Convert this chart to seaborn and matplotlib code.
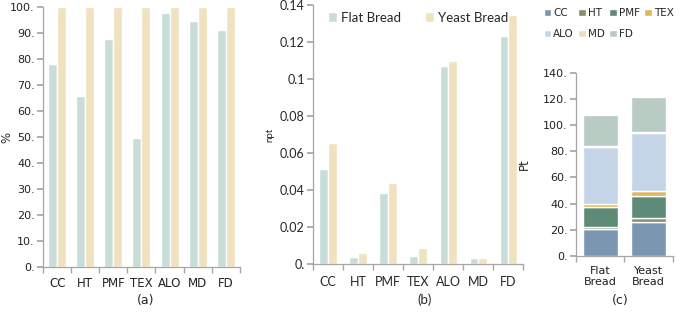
import matplotlib
matplotlib.use("Agg")
import matplotlib.pyplot as plt
import seaborn as sns
import pandas as pd
from matplotlib.ticker import FuncFormatter, FixedLocator

# categories and values
impacts = ["CC", "HT", "PMF", "TEX", "ALO", "MD", "FD"]
breads = ["Flat Bread", "Yeast Bread"]

pct_flat = [78.0, 65.7, 87.6, 49.5, 97.8, 94.7, 91.0]
pct_yeast = [100.0, 100.0, 100.0, 100.0, 100.0, 100.0, 100.0]

npt_flat = [0.0515, 0.0038, 0.0385, 0.0043, 0.107, 0.0033, 0.123]
npt_yeast = [0.0655, 0.0058, 0.044, 0.0085, 0.1095, 0.0033, 0.1345]

pt_flat = [20.4, 1.5, 15.8, 2.0, 43.3, 0.6, 24.1]
pt_yeast = [26.2, 2.6, 17.2, 3.9, 44.0, 0.6, 27.2]
stack_labels = ["Flat\nBread", "Yeast\nBread"]

bread_colors = ["#C9DDD8", "#F1E2BF"]
stack_colors = ["#7A96B0", "#8A8C68", "#5E8A78", "#E0B65A",
                "#C5D5E8", "#EEDDB8", "#B9CCC4"]
axis_grey = "#A6A6A6"
lato = ["Lato", "DejaVu Sans"]

sns.set_theme(style="white")
plt.rcParams["font.family"] = ["DejaVu Sans"]


def style_axes(ax):
    sns.despine(ax=ax)
    for s in ("left", "bottom"):
        ax.spines[s].set_color(axis_grey)
        ax.spines[s].set_linewidth(0.9)
    ax.tick_params(axis="y", which="major", direction="out", length=4,
                   color=axis_grey, left=True, pad=2)


def category_ticks(ax, n, pad=6):
    ax.set_xlim(-0.5, n - 0.5)
    ax.xaxis.set_minor_locator(FixedLocator([i - 0.5 for i in range(n + 1)]))
    ax.tick_params(axis="x", which="minor", direction="out", length=4,
                   color=axis_grey, bottom=True)
    ax.tick_params(axis="x", which="major", length=0, pad=pad)


fig = plt.figure(figsize=(6.85, 3.12), dpi=100)

# (a) relative share
ax_a = fig.add_axes([0.063, 0.144, 0.287, 0.834])
df_a = pd.DataFrame({
    "impact": impacts * 2,
    "bread": [breads[0]] * 7 + [breads[1]] * 7,
    "value": pct_flat + pct_yeast,
})
sns.barplot(data=df_a, x="impact", y="value", hue="bread", palette=bread_colors,
            width=0.64, ax=ax_a, legend=False, saturation=1)
ax_a.set_ylim(0, 100)
ax_a.set_yticks(range(0, 101, 10))
ax_a.yaxis.set_major_formatter(FuncFormatter(lambda v, p: f"{int(round(v))}."))
ax_a.set_xlabel("")
ax_a.set_ylabel("%", fontsize=8.5)
ax_a.yaxis.set_label_coords(-0.15, 0.5)
style_axes(ax_a)
category_ticks(ax_a, 7, pad=7)
ax_a.tick_params(axis="x", labelsize=8.5, labelcolor="#222222")
ax_a.tick_params(axis="y", labelsize=8, labelcolor="#222222")

# (b) normalised
ax_b = fig.add_axes([0.457, 0.154, 0.307, 0.83])
df_b = pd.DataFrame({
    "impact": impacts * 2,
    "bread": [breads[0]] * 7 + [breads[1]] * 7,
    "value": npt_flat + npt_yeast,
})
sns.barplot(data=df_b, x="impact", y="value", hue="bread", palette=bread_colors,
            width=0.58, ax=ax_b, saturation=1)
ax_b.set_ylim(0, 0.14)
ax_b.set_yticks([0, 0.02, 0.04, 0.06, 0.08, 0.1, 0.12, 0.14])
ax_b.yaxis.set_major_formatter(
    FuncFormatter(lambda v, p: "0." if abs(v) < 1e-9 else f"{v:g}"))
ax_b.set_xlabel("")
ax_b.set_ylabel("npt", fontsize=7, labelpad=4, family=lato)
style_axes(ax_b)
category_ticks(ax_b, 7, pad=9)
ax_b.tick_params(labelsize=9)
for t in ax_b.get_xticklabels() + ax_b.get_yticklabels():
    t.set_family(lato)
ax_b.legend(loc="upper center", bbox_to_anchor=(0.5, 1.02), ncol=2,
            frameon=False, handlelength=0.7, handleheight=0.7,
            handletextpad=0.3, columnspacing=1.8,
            prop={"family": lato, "size": 9.5}, title=None)

# (c) single score, stacked
ax_c = fig.add_axes([0.841, 0.18, 0.141, 0.587])
bottoms = [0.0, 0.0]
for i, name in enumerate(impacts):
    heights = [pt_flat[i], pt_yeast[i]]
    df_c = pd.DataFrame({"bread": stack_labels, "value": heights})
    sns.barplot(data=df_c, x="bread", y="value", color=stack_colors[i],
                width=0.72, bottom=list(bottoms), ax=ax_c, saturation=1,
                label=name)
    bottoms = [b + h for b, h in zip(bottoms, heights)]
if ax_c.get_legend() is not None:
    ax_c.get_legend().remove()
ax_c.set_ylim(0, 140)
ax_c.set_yticks(range(0, 141, 20))
ax_c.yaxis.set_major_formatter(FuncFormatter(lambda v, p: f"{int(round(v))}."))
ax_c.set_xlabel("")
ax_c.set_ylabel("Pt", fontsize=8.5, labelpad=9)
style_axes(ax_c)
category_ticks(ax_c, 2, pad=7)
ax_c.tick_params(labelsize=8, labelcolor="#222222")

# legend rows: CC HT PMF TEX / ALO MD FD (matplotlib fills column by column)
handles, labels = ax_c.get_legend_handles_labels()
order = [0, 4, 1, 5, 2, 6, 3]
fig.legend([handles[i] for i in order], [labels[i] for i in order],
           loc="upper left", bbox_to_anchor=(0.78, 1.005),
           ncol=4, frameon=False, fontsize=7.5, handlelength=0.7,
           handleheight=0.7, handletextpad=0.2, columnspacing=0.45,
           labelspacing=1.1)

# panel captions
fig.text(0.213, 0.025, "(a)", ha="center", fontsize=9)
fig.text(0.620, 0.025, "(b)", ha="center", fontsize=9.5, family=lato)
fig.text(0.905, 0.025, "(c)", ha="center", fontsize=9)

fig.savefig("out.png", dpi=100)
